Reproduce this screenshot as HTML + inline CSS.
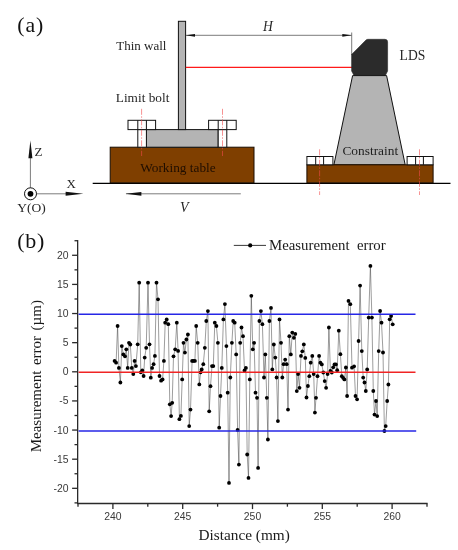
<!DOCTYPE html>
<html><head><meta charset="utf-8"><title>Figure</title>
<style>
html,body{margin:0;padding:0;background:#fff;}
body{width:458px;height:550px;overflow:hidden;position:relative;}
svg{position:absolute;left:0;top:0;display:block;}
.serif{font-family:"Liberation Serif","Times New Roman",serif;}
.sans{font-family:"Liberation Sans",Arial,sans-serif;}
</style></head><body>
<svg width="458" height="550" viewBox="0 0 458 550">
<rect width="458" height="550" fill="#fff"/>

<!-- ===== (a) schematic ===== -->
<g class="serif" fill="#262626">
<text x="17.2" y="32.1" font-size="21.8" letter-spacing="1" fill="#111">(a)</text>
<text x="116.3" y="50.2" font-size="13">Thin wall</text>
<text x="115.8" y="102" font-size="13.3">Limit bolt</text>
<text x="399.6" y="60" font-size="13.6">LDS</text>
<text x="263" y="31" font-size="13.6" font-style="italic">H</text>
<text x="180" y="211.8" font-size="14" font-style="italic">V</text>
<text x="34.6" y="156.3" font-size="13">Z</text>
<text x="66.4" y="187.9" font-size="13">X</text>
<text x="17.2" y="212" font-size="13.5">Y(O)</text>
</g>

<!-- ground line -->
<line x1="92.7" y1="183.4" x2="450.5" y2="183.4" stroke="#000" stroke-width="1.3"/>

<!-- working table -->
<rect x="110.2" y="147.2" width="143.8" height="35.6" fill="#7f3f00" stroke="#1a0d00" stroke-width="1"/>
<text class="serif" x="140.3" y="172.2" font-size="13.3" fill="#1f0e00">Working table</text>
<!-- base plate of wall -->
<rect x="146.4" y="129.6" width="71.8" height="17.6" fill="#b4b4b4" stroke="#111" stroke-width="1"/>
<!-- thin wall -->
<rect x="178.4" y="21.3" width="7.2" height="108.3" fill="#b4b4b4" stroke="#111" stroke-width="1"/>
<!-- bolts -->
<g fill="#fff" stroke="#111" stroke-width="1">
<rect x="137.8" y="129.6" width="8.6" height="17.6"/>
<rect x="128" y="120.3" width="27.6" height="9.3"/>
<line x1="137.8" y1="120.3" x2="137.8" y2="129.6"/><line x1="146.4" y1="120.3" x2="146.4" y2="129.6"/>
<rect x="218.2" y="129.6" width="8.6" height="17.6"/>
<rect x="208.6" y="120.3" width="27.6" height="9.3"/>
<line x1="218.2" y1="120.3" x2="218.2" y2="129.6"/><line x1="226.8" y1="120.3" x2="226.8" y2="129.6"/>
</g>
<g stroke="#f24a4a" stroke-width="0.6" stroke-dasharray="6 1.5 1.5 1.5">
<line x1="141.6" y1="108.8" x2="141.6" y2="156"/>
<line x1="222.5" y1="108.8" x2="222.5" y2="156"/>
</g>

<!-- H dimension -->
<line x1="186" y1="35.3" x2="351.6" y2="35.3" stroke="#444" stroke-width="0.7"/>
<polygon points="185.8,35.3 195,33.9 195,36.7" fill="#111"/>
<polygon points="351.6,35.3 342.3,33.9 342.3,36.7" fill="#111"/>
<line x1="351.7" y1="32.5" x2="351.7" y2="55" stroke="#444" stroke-width="0.7"/>
<!-- laser -->
<line x1="185.8" y1="67.3" x2="352.5" y2="67.3" stroke="#ff1a1a" stroke-width="1.3"/>

<!-- V arrow -->
<line x1="126" y1="193.8" x2="240.8" y2="193.8" stroke="#444" stroke-width="0.7"/>
<polygon points="125.5,193.8 141.4,191.9 141.4,195.7" fill="#111"/>

<!-- LDS head -->
<path d="M354,75.4 L351.6,71 L351.6,54.5 L366,40 Q366.8,39.3 368,39.3 L385,39.3 Q387.6,39.3 387.6,42 L387.6,71 L385.4,75.4 Z" fill="#2b2b2b" stroke="#2b2b2b" stroke-width="0.6" stroke-linejoin="round"/>
<!-- constraint trapezoid -->
<polygon points="352.6,75.6 386.6,75.6 405.2,164.8 333.9,164.8" fill="#b4b4b4" stroke="#111" stroke-width="1"/>
<text class="serif" x="342.4" y="154.6" font-size="13.4" fill="#1e1e1e">Constraint</text>
<!-- base -->
<rect x="306.9" y="164.8" width="126.2" height="18" fill="#7f3f00" stroke="#1a0d00" stroke-width="1"/>
<g fill="#fff" stroke="#111" stroke-width="1">
<rect x="306.9" y="156.5" width="26" height="8.3"/>
<line x1="315.7" y1="156.5" x2="315.7" y2="164.8"/><line x1="323.6" y1="156.5" x2="323.6" y2="164.8"/>
<rect x="407.1" y="156.5" width="26" height="8.3"/>
<line x1="415.6" y1="156.5" x2="415.6" y2="164.8"/><line x1="423.4" y1="156.5" x2="423.4" y2="164.8"/>
</g>
<g stroke="#f24a4a" stroke-width="0.6" stroke-dasharray="6 1.5 1.5 1.5">
<line x1="319.6" y1="149.3" x2="319.6" y2="195"/>
<line x1="419.5" y1="149.3" x2="419.5" y2="195"/>
</g>

<!-- coordinate axes -->
<line x1="30.4" y1="150" x2="30.4" y2="188" stroke="#444" stroke-width="0.7"/>
<polygon points="30.4,140.6 28.4,158.2 32.4,158.2" fill="#111"/>
<line x1="36.5" y1="193.8" x2="70" y2="193.8" stroke="#444" stroke-width="0.7"/>
<polygon points="83.4,193.8 65.6,191.8 65.6,195.8" fill="#111"/>
<circle cx="30.5" cy="193.8" r="6" fill="#fff" stroke="#111" stroke-width="1"/>
<circle cx="30.5" cy="193.8" r="2.9" fill="#000"/>

<!-- ===== (b) chart ===== -->
<text class="serif" x="17.3" y="248.1" font-size="22" letter-spacing="0.7" fill="#111">(b)</text>
<g stroke="#2a2a2a" stroke-width="1.3" fill="none">
<line x1="77.65" y1="239.9" x2="77.65" y2="504.1"/>
<line x1="77.3" y1="503.5" x2="427.6" y2="503.5"/>
<line x1="74.5" y1="502.88" x2="77.65" y2="502.88"/><line x1="72.1" y1="488.32" x2="77.65" y2="488.32"/><line x1="74.5" y1="473.75" x2="77.65" y2="473.75"/><line x1="72.1" y1="459.19" x2="77.65" y2="459.19"/><line x1="74.5" y1="444.62" x2="77.65" y2="444.62"/><line x1="72.1" y1="430.06" x2="77.65" y2="430.06"/><line x1="74.5" y1="415.50" x2="77.65" y2="415.50"/><line x1="72.1" y1="400.93" x2="77.65" y2="400.93"/><line x1="74.5" y1="386.37" x2="77.65" y2="386.37"/><line x1="72.1" y1="371.80" x2="77.65" y2="371.80"/><line x1="74.5" y1="357.24" x2="77.65" y2="357.24"/><line x1="72.1" y1="342.67" x2="77.65" y2="342.67"/><line x1="74.5" y1="328.11" x2="77.65" y2="328.11"/><line x1="72.1" y1="313.54" x2="77.65" y2="313.54"/><line x1="74.5" y1="298.98" x2="77.65" y2="298.98"/><line x1="72.1" y1="284.41" x2="77.65" y2="284.41"/><line x1="74.5" y1="269.85" x2="77.65" y2="269.85"/><line x1="72.1" y1="255.28" x2="77.65" y2="255.28"/><line x1="74.5" y1="240.72" x2="77.65" y2="240.72"/>
<line x1="78.00" y1="503.5" x2="78.00" y2="506.7"/><line x1="112.90" y1="503.5" x2="112.90" y2="509.1"/><line x1="147.80" y1="503.5" x2="147.80" y2="506.7"/><line x1="182.70" y1="503.5" x2="182.70" y2="509.1"/><line x1="217.60" y1="503.5" x2="217.60" y2="506.7"/><line x1="252.50" y1="503.5" x2="252.50" y2="509.1"/><line x1="287.40" y1="503.5" x2="287.40" y2="506.7"/><line x1="322.30" y1="503.5" x2="322.30" y2="509.1"/><line x1="357.20" y1="503.5" x2="357.20" y2="506.7"/><line x1="392.10" y1="503.5" x2="392.10" y2="509.1"/><line x1="427.00" y1="503.5" x2="427.00" y2="506.7"/>
</g>
<g class="sans" font-size="10.4" fill="#3a3a3a">
<text x="68.6" y="491.8" text-anchor="end">-20</text><text x="68.6" y="462.7" text-anchor="end">-15</text><text x="68.6" y="433.6" text-anchor="end">-10</text><text x="68.6" y="404.4" text-anchor="end">-5</text><text x="68.6" y="375.3" text-anchor="end">0</text><text x="68.6" y="346.2" text-anchor="end">5</text><text x="68.6" y="317.0" text-anchor="end">10</text><text x="68.6" y="287.9" text-anchor="end">15</text><text x="68.6" y="258.8" text-anchor="end">20</text>
<text x="112.9" y="520.4" text-anchor="middle">240</text><text x="182.7" y="520.4" text-anchor="middle">245</text><text x="252.5" y="520.4" text-anchor="middle">250</text><text x="322.3" y="520.4" text-anchor="middle">255</text><text x="392.1" y="520.4" text-anchor="middle">260</text>
</g>
<text class="serif" x="244.2" y="540.4" font-size="15.3" text-anchor="middle" fill="#1a1a1a">Distance (mm)</text>
<text class="serif" transform="translate(40.9,376.2) rotate(-90)" font-size="15" word-spacing="1.8" text-anchor="middle" fill="#1a1a1a">Measurement error (µm)</text>

<!-- legend -->
<line x1="233.8" y1="245.4" x2="266" y2="245.4" stroke="#222" stroke-width="0.9"/>
<circle cx="250.2" cy="245.4" r="2.1" fill="#000"/>
<text class="serif" x="269" y="249.9" font-size="14.8" fill="#1a1a1a" xml:space="preserve">Measurement  error</text>

<!-- data -->
<polyline points="114.6,360.9 116.1,362.7 117.6,326.0 118.9,367.9 120.4,382.5 121.8,346.1 123.3,354.4 125.0,356.3 126.3,349.3 127.7,367.9 129.0,342.8 130.3,344.5 131.8,367.9 133.3,374.0 134.6,360.9 135.9,366.1 137.7,344.3 139.2,282.7 140.8,372.3 142.3,370.5 143.6,376.0 144.7,357.6 146.2,347.8 148.0,282.7 149.5,344.3 150.8,377.7 152.1,367.9 153.6,364.2 154.9,355.9 156.5,282.7 158.0,299.3 159.5,376.0 161.1,380.7 162.6,379.4 163.9,360.9 165.2,322.7 166.7,319.4 168.3,324.2 169.8,404.3 171.1,416.1 172.2,402.8 173.5,356.3 175.2,349.3 176.8,322.7 178.1,350.9 179.4,419.2 180.9,415.9 182.2,379.4 183.5,342.8 184.9,352.6 186.4,339.5 187.9,334.5 189.2,426.1 190.5,409.6 192.1,360.9 193.4,360.9 194.9,360.9 196.2,326.0 197.7,342.8 199.3,384.4 200.6,372.3 201.7,369.4 203.3,364.2 204.8,347.8 206.3,321.0 207.9,311.1 209.2,411.3 210.5,386.2 212.0,366.1 213.3,366.1 214.8,322.7 216.4,326.0 217.9,342.8 219.2,427.7 220.5,396.0 221.8,367.9 223.4,319.4 224.9,304.1 226.4,346.1 227.7,392.7 229.0,482.9 230.3,377.5 231.9,342.8 233.2,321.0 234.7,322.7 236.2,354.4 237.6,429.9 238.9,464.6 240.2,342.8 241.5,327.5 243.0,336.2 244.5,370.5 245.9,367.9 247.2,454.5 248.5,477.9 249.8,379.4 251.3,295.8 252.8,349.3 254.1,342.8 255.5,392.7 257.0,397.8 258.1,467.9 259.4,321.0 260.9,311.1 262.4,324.2 264.0,377.5 265.3,354.4 266.8,397.8 267.9,439.5 269.4,321.0 271.0,307.9 272.3,369.4 273.8,344.5 275.3,357.6 276.6,377.5 277.9,421.1 279.5,319.4 281.0,342.8 282.3,377.5 283.6,364.2 285.2,359.6 286.7,364.2 288.0,409.6 289.3,336.2 290.8,354.4 292.3,332.6 293.9,337.8 295.3,333.9 296.8,391.1 298.1,374.1 299.5,387.8 301.0,355.9 302.3,351.3 303.8,344.4 305.3,357.9 306.5,397.5 307.9,386.0 309.3,376.2 310.7,362.7 312.3,355.9 313.7,374.1 314.9,412.6 316.0,397.8 317.5,376.2 319.1,355.9 320.4,362.7 321.8,364.4 323.3,372.5 324.7,381.1 326.1,387.8 327.6,374.1 328.9,327.5 330.4,371.0 331.8,372.5 333.2,367.3 334.5,364.4 335.9,364.4 337.2,370.2 338.8,330.7 340.4,354.2 341.8,376.2 343.1,377.8 344.4,379.4 345.9,367.5 347.1,396.0 348.5,300.9 350.3,304.2 352.0,367.7 354.1,366.3 355.5,396.0 357.1,399.3 358.6,341.0 360.1,285.6 361.8,351.1 363.2,377.6 364.5,382.5 365.8,391.0 367.2,369.4 368.7,317.6 370.4,265.9 371.9,317.6 373.3,391.0 374.5,414.6 376.0,401.0 377.2,416.1 378.7,351.1 380.1,311.0 381.5,322.7 383.0,352.5 384.4,431.0 385.7,426.1 387.2,401.0 388.4,384.5 389.7,319.3 391.1,316.0 392.7,324.3" fill="none" stroke="#3a3a3a" stroke-width="0.5" stroke-linejoin="round"/>
<g fill="#000"><circle cx="114.6" cy="360.9" r="1.9"/><circle cx="116.1" cy="362.7" r="1.9"/><circle cx="117.6" cy="326.0" r="1.9"/><circle cx="118.9" cy="367.9" r="1.9"/><circle cx="120.4" cy="382.5" r="1.9"/><circle cx="121.8" cy="346.1" r="1.9"/><circle cx="123.3" cy="354.4" r="1.9"/><circle cx="125.0" cy="356.3" r="1.9"/><circle cx="126.3" cy="349.3" r="1.9"/><circle cx="127.7" cy="367.9" r="1.9"/><circle cx="129.0" cy="342.8" r="1.9"/><circle cx="130.3" cy="344.5" r="1.9"/><circle cx="131.8" cy="367.9" r="1.9"/><circle cx="133.3" cy="374.0" r="1.9"/><circle cx="134.6" cy="360.9" r="1.9"/><circle cx="135.9" cy="366.1" r="1.9"/><circle cx="137.7" cy="344.3" r="1.9"/><circle cx="139.2" cy="282.7" r="1.9"/><circle cx="140.8" cy="372.3" r="1.9"/><circle cx="142.3" cy="370.5" r="1.9"/><circle cx="143.6" cy="376.0" r="1.9"/><circle cx="144.7" cy="357.6" r="1.9"/><circle cx="146.2" cy="347.8" r="1.9"/><circle cx="148.0" cy="282.7" r="1.9"/><circle cx="149.5" cy="344.3" r="1.9"/><circle cx="150.8" cy="377.7" r="1.9"/><circle cx="152.1" cy="367.9" r="1.9"/><circle cx="153.6" cy="364.2" r="1.9"/><circle cx="154.9" cy="355.9" r="1.9"/><circle cx="156.5" cy="282.7" r="1.9"/><circle cx="158.0" cy="299.3" r="1.9"/><circle cx="159.5" cy="376.0" r="1.9"/><circle cx="161.1" cy="380.7" r="1.9"/><circle cx="162.6" cy="379.4" r="1.9"/><circle cx="163.9" cy="360.9" r="1.9"/><circle cx="165.2" cy="322.7" r="1.9"/><circle cx="166.7" cy="319.4" r="1.9"/><circle cx="168.3" cy="324.2" r="1.9"/><circle cx="169.8" cy="404.3" r="1.9"/><circle cx="171.1" cy="416.1" r="1.9"/><circle cx="172.2" cy="402.8" r="1.9"/><circle cx="173.5" cy="356.3" r="1.9"/><circle cx="175.2" cy="349.3" r="1.9"/><circle cx="176.8" cy="322.7" r="1.9"/><circle cx="178.1" cy="350.9" r="1.9"/><circle cx="179.4" cy="419.2" r="1.9"/><circle cx="180.9" cy="415.9" r="1.9"/><circle cx="182.2" cy="379.4" r="1.9"/><circle cx="183.5" cy="342.8" r="1.9"/><circle cx="184.9" cy="352.6" r="1.9"/><circle cx="186.4" cy="339.5" r="1.9"/><circle cx="187.9" cy="334.5" r="1.9"/><circle cx="189.2" cy="426.1" r="1.9"/><circle cx="190.5" cy="409.6" r="1.9"/><circle cx="192.1" cy="360.9" r="1.9"/><circle cx="193.4" cy="360.9" r="1.9"/><circle cx="194.9" cy="360.9" r="1.9"/><circle cx="196.2" cy="326.0" r="1.9"/><circle cx="197.7" cy="342.8" r="1.9"/><circle cx="199.3" cy="384.4" r="1.9"/><circle cx="200.6" cy="372.3" r="1.9"/><circle cx="201.7" cy="369.4" r="1.9"/><circle cx="203.3" cy="364.2" r="1.9"/><circle cx="204.8" cy="347.8" r="1.9"/><circle cx="206.3" cy="321.0" r="1.9"/><circle cx="207.9" cy="311.1" r="1.9"/><circle cx="209.2" cy="411.3" r="1.9"/><circle cx="210.5" cy="386.2" r="1.9"/><circle cx="212.0" cy="366.1" r="1.9"/><circle cx="213.3" cy="366.1" r="1.9"/><circle cx="214.8" cy="322.7" r="1.9"/><circle cx="216.4" cy="326.0" r="1.9"/><circle cx="217.9" cy="342.8" r="1.9"/><circle cx="219.2" cy="427.7" r="1.9"/><circle cx="220.5" cy="396.0" r="1.9"/><circle cx="221.8" cy="367.9" r="1.9"/><circle cx="223.4" cy="319.4" r="1.9"/><circle cx="224.9" cy="304.1" r="1.9"/><circle cx="226.4" cy="346.1" r="1.9"/><circle cx="227.7" cy="392.7" r="1.9"/><circle cx="229.0" cy="482.9" r="1.9"/><circle cx="230.3" cy="377.5" r="1.9"/><circle cx="231.9" cy="342.8" r="1.9"/><circle cx="233.2" cy="321.0" r="1.9"/><circle cx="234.7" cy="322.7" r="1.9"/><circle cx="236.2" cy="354.4" r="1.9"/><circle cx="237.6" cy="429.9" r="1.9"/><circle cx="238.9" cy="464.6" r="1.9"/><circle cx="240.2" cy="342.8" r="1.9"/><circle cx="241.5" cy="327.5" r="1.9"/><circle cx="243.0" cy="336.2" r="1.9"/><circle cx="244.5" cy="370.5" r="1.9"/><circle cx="245.9" cy="367.9" r="1.9"/><circle cx="247.2" cy="454.5" r="1.9"/><circle cx="248.5" cy="477.9" r="1.9"/><circle cx="249.8" cy="379.4" r="1.9"/><circle cx="251.3" cy="295.8" r="1.9"/><circle cx="252.8" cy="349.3" r="1.9"/><circle cx="254.1" cy="342.8" r="1.9"/><circle cx="255.5" cy="392.7" r="1.9"/><circle cx="257.0" cy="397.8" r="1.9"/><circle cx="258.1" cy="467.9" r="1.9"/><circle cx="259.4" cy="321.0" r="1.9"/><circle cx="260.9" cy="311.1" r="1.9"/><circle cx="262.4" cy="324.2" r="1.9"/><circle cx="264.0" cy="377.5" r="1.9"/><circle cx="265.3" cy="354.4" r="1.9"/><circle cx="266.8" cy="397.8" r="1.9"/><circle cx="267.9" cy="439.5" r="1.9"/><circle cx="269.4" cy="321.0" r="1.9"/><circle cx="271.0" cy="307.9" r="1.9"/><circle cx="272.3" cy="369.4" r="1.9"/><circle cx="273.8" cy="344.5" r="1.9"/><circle cx="275.3" cy="357.6" r="1.9"/><circle cx="276.6" cy="377.5" r="1.9"/><circle cx="277.9" cy="421.1" r="1.9"/><circle cx="279.5" cy="319.4" r="1.9"/><circle cx="281.0" cy="342.8" r="1.9"/><circle cx="282.3" cy="377.5" r="1.9"/><circle cx="283.6" cy="364.2" r="1.9"/><circle cx="285.2" cy="359.6" r="1.9"/><circle cx="286.7" cy="364.2" r="1.9"/><circle cx="288.0" cy="409.6" r="1.9"/><circle cx="289.3" cy="336.2" r="1.9"/><circle cx="290.8" cy="354.4" r="1.9"/><circle cx="292.3" cy="332.6" r="1.9"/><circle cx="293.9" cy="337.8" r="1.9"/><circle cx="295.3" cy="333.9" r="1.9"/><circle cx="296.8" cy="391.1" r="1.9"/><circle cx="298.1" cy="374.1" r="1.9"/><circle cx="299.5" cy="387.8" r="1.9"/><circle cx="301.0" cy="355.9" r="1.9"/><circle cx="302.3" cy="351.3" r="1.9"/><circle cx="303.8" cy="344.4" r="1.9"/><circle cx="305.3" cy="357.9" r="1.9"/><circle cx="306.5" cy="397.5" r="1.9"/><circle cx="307.9" cy="386.0" r="1.9"/><circle cx="309.3" cy="376.2" r="1.9"/><circle cx="310.7" cy="362.7" r="1.9"/><circle cx="312.3" cy="355.9" r="1.9"/><circle cx="313.7" cy="374.1" r="1.9"/><circle cx="314.9" cy="412.6" r="1.9"/><circle cx="316.0" cy="397.8" r="1.9"/><circle cx="317.5" cy="376.2" r="1.9"/><circle cx="319.1" cy="355.9" r="1.9"/><circle cx="320.4" cy="362.7" r="1.9"/><circle cx="321.8" cy="364.4" r="1.9"/><circle cx="323.3" cy="372.5" r="1.9"/><circle cx="324.7" cy="381.1" r="1.9"/><circle cx="326.1" cy="387.8" r="1.9"/><circle cx="327.6" cy="374.1" r="1.9"/><circle cx="328.9" cy="327.5" r="1.9"/><circle cx="330.4" cy="371.0" r="1.9"/><circle cx="331.8" cy="372.5" r="1.9"/><circle cx="333.2" cy="367.3" r="1.9"/><circle cx="334.5" cy="364.4" r="1.9"/><circle cx="335.9" cy="364.4" r="1.9"/><circle cx="337.2" cy="370.2" r="1.9"/><circle cx="338.8" cy="330.7" r="1.9"/><circle cx="340.4" cy="354.2" r="1.9"/><circle cx="341.8" cy="376.2" r="1.9"/><circle cx="343.1" cy="377.8" r="1.9"/><circle cx="344.4" cy="379.4" r="1.9"/><circle cx="345.9" cy="367.5" r="1.9"/><circle cx="347.1" cy="396.0" r="1.9"/><circle cx="348.5" cy="300.9" r="1.9"/><circle cx="350.3" cy="304.2" r="1.9"/><circle cx="352.0" cy="367.7" r="1.9"/><circle cx="354.1" cy="366.3" r="1.9"/><circle cx="355.5" cy="396.0" r="1.9"/><circle cx="357.1" cy="399.3" r="1.9"/><circle cx="358.6" cy="341.0" r="1.9"/><circle cx="360.1" cy="285.6" r="1.9"/><circle cx="361.8" cy="351.1" r="1.9"/><circle cx="363.2" cy="377.6" r="1.9"/><circle cx="364.5" cy="382.5" r="1.9"/><circle cx="365.8" cy="391.0" r="1.9"/><circle cx="367.2" cy="369.4" r="1.9"/><circle cx="368.7" cy="317.6" r="1.9"/><circle cx="370.4" cy="265.9" r="1.9"/><circle cx="371.9" cy="317.6" r="1.9"/><circle cx="373.3" cy="391.0" r="1.9"/><circle cx="374.5" cy="414.6" r="1.9"/><circle cx="376.0" cy="401.0" r="1.9"/><circle cx="377.2" cy="416.1" r="1.9"/><circle cx="378.7" cy="351.1" r="1.9"/><circle cx="380.1" cy="311.0" r="1.9"/><circle cx="381.5" cy="322.7" r="1.9"/><circle cx="383.0" cy="352.5" r="1.9"/><circle cx="384.4" cy="431.0" r="1.9"/><circle cx="385.7" cy="426.1" r="1.9"/><circle cx="387.2" cy="401.0" r="1.9"/><circle cx="388.4" cy="384.5" r="1.9"/><circle cx="389.7" cy="319.3" r="1.9"/><circle cx="391.1" cy="316.0" r="1.9"/><circle cx="392.7" cy="324.3" r="1.9"/></g>
<!-- limit lines -->
<g stroke-width="1.55">
<line x1="78.6" y1="314.3" x2="415.5" y2="314.3" stroke="#2626e6"/>
<line x1="78.6" y1="431" x2="416.2" y2="431" stroke="#2626e6"/>
<line x1="78.6" y1="372.2" x2="415.5" y2="372.2" stroke="#f02424"/>
</g>
</svg>
</body></html>
